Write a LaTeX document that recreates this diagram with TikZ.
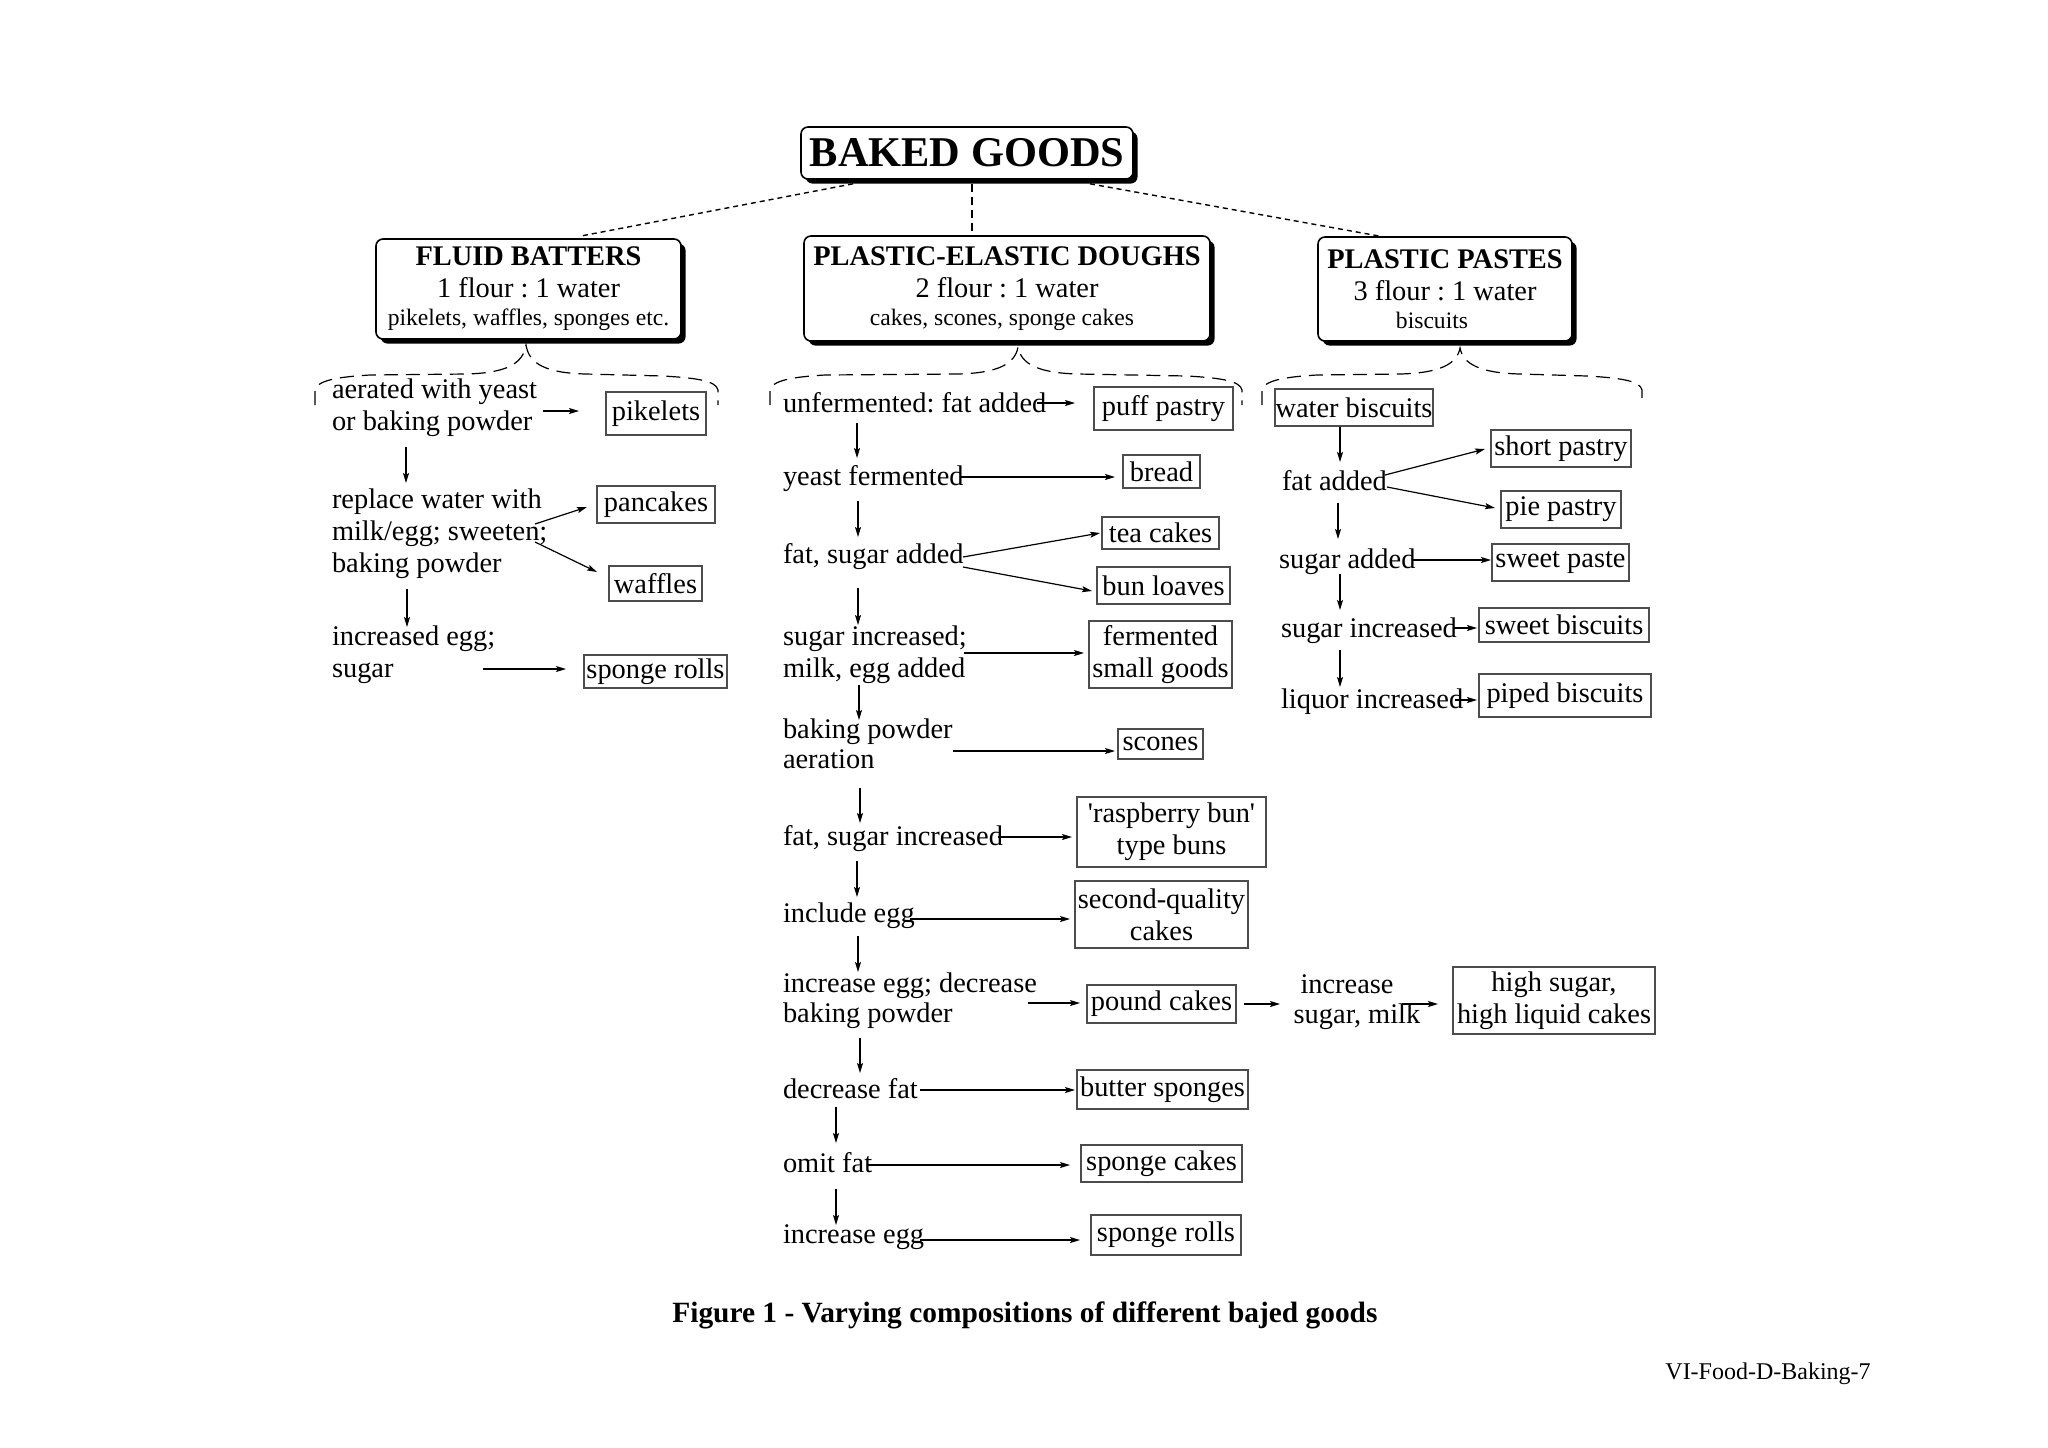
\documentclass[tikz,border=0pt]{standalone}
\usepackage{fontspec}
\setmainfont{Liberation Serif}
\usetikzlibrary{arrows.meta,shadows}
\newcommand{\dbrace}[4]{%
  \draw[brc] (#1,405) -- (#1,390) .. controls ({#1+2},381) and ({#1+20},377) .. ({#1+55},375)
    -- ({#3-60},374) .. controls ({#3-20},373) and ({#3-3},364) .. (#3,#4)
    .. controls ({#3+3},364) and ({#3+20},373) .. ({#3+60},374)
    -- ({#2-55},376) .. controls ({#2-20},378) and ({#2-2},381) .. (#2,390) -- (#2,405);}
\begin{document}
\frenchspacing
\begin{tikzpicture}[x=0.5pt,y=-0.5pt,
  lbl/.style={inner sep=0pt, outer sep=0pt, anchor=base west, align=left, font=\fontsize{14.2}{16}\selectfont\frenchspacing},
  bx/.style={draw=black!70, line width=0.6pt, inner sep=0pt, outer sep=0pt, align=center, font=\fontsize{14.2}{16}\selectfont\frenchspacing},
  hdr/.style={draw, line width=0.8pt, rounded corners=3.5pt, fill=white, inner sep=0pt, align=center,
    font=\fontsize{14.2}{16}\selectfont\frenchspacing, drop shadow={shadow xshift=2.3pt, shadow yshift=-2.3pt, opacity=1, fill=black}},
  arr/.style={-{Stealth[length=5pt,width=3pt,inset=1pt]}, line width=0.6pt},
  lnk/.style={dash pattern=on 2.5pt off 2pt, line width=0.7pt},
  lnkm/.style={dash pattern=on 4pt off 2.5pt, line width=0.7pt},
  brc/.style={dash pattern=on 7pt off 4pt, line width=0.6pt}]
\useasboundingbox (0,0) rectangle (2048,1447);
\fill[white] (0,0) rectangle (2048,1447);

% ---------- headers ----------
\node[hdr, minimum width=166pt, minimum height=26pt] (bg) at (967,153)
  {\fontsize{21.2}{24}\selectfont\bfseries BAKED GOODS};
\node[hdr, minimum width=152.5pt, minimum height=50pt] (fb) at (528.5,289)
  {{\bfseries FLUID BATTERS}\\1 flour : 1 water\\[-2pt]{\fontsize{11.8}{14}\selectfont pikelets, waffles, sponges etc.}};
\node[hdr, minimum width=203pt, minimum height=52.5pt] (ped) at (1007,288.5)
  {{\bfseries PLASTIC-ELASTIC DOUGHS}\\2 flour : 1 water\\[-2pt]{\fontsize{11.8}{14}\selectfont cakes, scones, sponge cakes\hspace*{5pt}}};
\node[hdr, minimum width=127pt, minimum height=52pt] (pp) at (1445,289)
  {{\bfseries PLASTIC PASTES}\\3 flour : 1 water\\[-2pt]{\fontsize{11.8}{14}\selectfont biscuits\hspace*{13pt}}};

\draw[lnk] ([shift={(-114,4)}]bg.south) -- ([shift={(51.5,-2)}]fb.north);
\draw[lnkm] ([shift={(5,4)}]bg.south) -- ([shift={(-35,-1)}]ped.north);
\draw[lnk] ([shift={(123,4)}]bg.south) -- ([shift={(-65,0)}]pp.north);

% ---------- braces ----------
\dbrace{315}{718}{526}{345}
\dbrace{770}{1242}{1018}{347}
\dbrace{1262}{1642}{1460}{348}

% ---------- left column ----------
\node[lbl] (la1) at (332,430) {aerated with yeast\\or baking powder};
\node[lbl] (la2) at (332,572) {replace water with\\milk/egg; sweeten;\\baking powder};
\node[lbl] (la3) at (332,677) {increased egg;\\sugar};
\node[bx, minimum width=50pt, minimum height=21.5pt] (pik) at (656,413.5) {pikelets};
\node[bx, minimum width=59pt, minimum height=18.5pt] (pan) at (656,504.5) {pancakes};
\node[bx, minimum width=46.5pt, minimum height=17.5pt] (waf) at (655.5,583.5) {waffles};
\node[bx, minimum width=71.5pt, minimum height=16.5pt] (sr1) at (655.5,671.5) {sponge rolls};

\draw[arr] ([shift={(74,17)}]la1.base west) -- ([shift={(74,-89)}]la2.base west);
\draw[arr] ([shift={(75,17)}]la2.base west) -- ([shift={(75,-50)}]la3.base west);
\draw[arr] ([shift={(211,-19)}]la1.base west) -- ([shift={(-27,-2.5)}]pik.west);
\draw[arr] ([shift={(203,-48)}]la2.base west) -- ([shift={(-10,2.5)}]pan.west);
\draw[arr] ([shift={(203,-30)}]la2.base west) -- ([shift={(-12,-11.5)}]waf.west);
\draw[arr] ([shift={(151,-8)}]la3.base west) -- ([shift={(-18,-2.5)}]sr1.west);

% ---------- middle column ----------
\node[lbl] (m1) at (783,412) {unfermented: fat added};
\node[lbl] (m2) at (783,485) {yeast fermented};
\node[lbl] (m3) at (783,563) {fat, sugar added};
\node[lbl] (m4) at (783,677) {sugar increased;\\milk, egg added};
\node[lbl] (m5) at (783,768) {baking powder\\[-1pt]aeration};
\node[lbl] (m6) at (783,845) {fat, sugar increased};
\node[lbl] (m7) at (783,922) {include egg};
\node[lbl] (m8) at (783,1022) {increase egg; decrease\\[-1pt]baking powder};
\node[lbl] (m9) at (783,1098) {decrease fat};
\node[lbl] (m10) at (783,1172) {omit fat};
\node[lbl] (m11) at (783,1243) {increase egg};
\node[lbl, anchor=base, align=center] (inc) at (1347,1023) {increase\\[-1pt]\hspace*{10pt}sugar, milk};

\node[bx, minimum width=69.5pt, minimum height=21.5pt] (puff) at (1163.5,408.5) {puff pastry};
\node[bx, minimum width=38.5pt, minimum height=16.5pt] (bread) at (1161.5,471.5) {bread};
\node[bx, minimum width=58.5pt, minimum height=16pt] (tea) at (1160.5,533) {tea cakes};
\node[bx, minimum width=66.5pt, minimum height=18.5pt] (bun) at (1163.5,585.5) {bun loaves};
\node[bx, minimum width=71.5pt, minimum height=33.5pt] (fsg) at (1160.5,654.5) {fermented\\small goods};
\node[bx, minimum width=42.5pt, minimum height=15pt] (scn) at (1160.5,744) {scones};
\node[bx, minimum width=94.5pt, minimum height=35pt] (rasp) at (1171.5,832) {\textquotesingle raspberry bun\textquotesingle\\type buns};
\node[bx, minimum width=86.5pt, minimum height=33.5pt] (sq) at (1161.5,914.5) {second-quality\\cakes};
\node[bx, minimum width=74.5pt, minimum height=19pt] (pound) at (1161.5,1004) {pound cakes};
\node[bx, minimum width=101pt, minimum height=33.5pt] (high) at (1554,1000.5) {high sugar,\\high liquid cakes};
\node[bx, minimum width=85.5pt, minimum height=19.5pt] (bs) at (1162.5,1089.5) {butter sponges};
\node[bx, minimum width=80.5pt, minimum height=18.5pt] (sc) at (1161.5,1163.5) {sponge cakes};
\node[bx, minimum width=75pt, minimum height=20pt] (sr2) at (1166,1235) {sponge rolls};

\draw[arr] ([shift={(74,11)}]m1.base west) -- ([shift={(74,-27)}]m2.base west);
\draw[arr] ([shift={(75,16)}]m2.base west) -- ([shift={(75,-26)}]m3.base west);
\draw[arr] ([shift={(75,25)}]m3.base west) -- ([shift={(75,-52)}]m4.base west);
\draw[arr] ([shift={(76,8)}]m4.base west) -- ([shift={(76,-48)}]m5.base west);
\draw[arr] ([shift={(77,20)}]m5.base west) -- ([shift={(77,-22)}]m6.base west);
\draw[arr] ([shift={(74,16)}]m6.base west) -- ([shift={(74,-25)}]m7.base west);
\draw[arr] ([shift={(75,14)}]m7.base west) -- ([shift={(75,-50)}]m8.base west);
\draw[arr] ([shift={(77,16)}]m8.base west) -- ([shift={(77,-25)}]m9.base west);
\draw[arr] ([shift={(53,9)}]m9.base west) -- ([shift={(53,-29)}]m10.base west);
\draw[arr] ([shift={(53,17)}]m10.base west) -- ([shift={(53,-18)}]m11.base west);

\draw[arr] ([shift={(254,-9)}]m1.base west) -- ([shift={(-19,-5.5)}]puff.west);
\draw[arr] ([shift={(177,-8)}]m2.base west) -- ([shift={(-8,5.5)}]bread.west);
\draw[arr] ([shift={(180,-6)}]m3.base west) -- ([shift={(-2,0)}]tea.west);
\draw[arr] ([shift={(180,4)}]m3.base west) -- ([shift={(-5,5.5)}]bun.west);
\draw[arr] ([shift={(181,-24)}]m4.base west) -- ([shift={(-5,-1.5)}]fsg.west);
\draw[arr] ([shift={(170,-17)}]m5.base west) -- ([shift={(-3,7)}]scn.west);
\draw[arr] ([shift={(215,-8)}]m6.base west) -- ([shift={(-5,5)}]rasp.west);
\draw[arr] ([shift={(127,-3)}]m7.base west) -- ([shift={(-5,4.5)}]sq.west);
\draw[arr] ([shift={(245,-19)}]m8.base west) -- ([shift={(-7,-1)}]pound.west);
\draw[arr] ([shift={(8,0)}]pound.east) -- ([shift={(-67,-19)}]inc.base);
\draw[arr] ([shift={(55,-19)}]inc.base) -- ([shift={(-15,3.5)}]high.west);
\draw[arr] ([shift={(137,-8)}]m9.base west) -- ([shift={(-2,0.5)}]bs.west);
\draw[arr] ([shift={(85,-7)}]m10.base west) -- ([shift={(-11,1.5)}]sc.west);
\draw[arr] ([shift={(137,-3)}]m11.base west) -- ([shift={(-11,5)}]sr2.west);

% ---------- right column ----------
\node[bx, minimum width=79pt, minimum height=18.5pt] (wb) at (1354,407.5) {water biscuits};
\node[lbl] (r1) at (1282,490) {fat added};
\node[lbl] (r2) at (1279,568) {sugar added};
\node[lbl] (r3) at (1281,637) {sugar increased};
\node[lbl] (r4) at (1281,708) {liquor increased};
\node[bx, minimum width=70pt, minimum height=18.5pt] (shp) at (1561,448.5) {short pastry};
\node[bx, minimum width=60pt, minimum height=18.5pt] (pie) at (1561,509.5) {pie pastry};
\node[bx, minimum width=68.5pt, minimum height=18.5pt] (swp) at (1560.5,562.5) {sweet paste};
\node[bx, minimum width=85pt, minimum height=17pt] (swb) at (1564,625) {sweet biscuits};
\node[bx, minimum width=86pt, minimum height=21.5pt] (pip) at (1565,695.5) {piped biscuits};

\draw[arr] ([shift={(-14,1)}]wb.south) -- ([shift={(58,-28)}]r1.base west);
\draw[arr] ([shift={(56,13)}]r1.base west) -- ([shift={(59,-29)}]r2.base west);
\draw[arr] ([shift={(61,6)}]r2.base west) -- ([shift={(59,-27)}]r3.base west);
\draw[arr] ([shift={(59,13)}]r3.base west) -- ([shift={(59,-21)}]r4.base west);

\draw[arr] ([shift={(103,-15)}]r1.base west) -- ([shift={(-6,0.5)}]shp.west);
\draw[arr] ([shift={(105,-3)}]r1.base west) -- ([shift={(-6,-1.5)}]pie.west);
\draw[arr] ([shift={(134,-8)}]r2.base west) -- ([shift={(-1,-2.5)}]swp.west);
\draw[arr] ([shift={(172,-9)}]r3.base west) -- ([shift={(-2,3)}]swb.west);
\draw[arr] ([shift={(174,-8)}]r4.base west) -- ([shift={(-2,4.5)}]pip.west);

% ---------- caption ----------
\node[anchor=base west, inner sep=0pt, font=\fontsize{14.7}{16}\selectfont\bfseries] (cap) at (672,1322)
  {Figure 1 - Varying compositions of different bajed goods};
\node[anchor=base west, inner sep=0pt, font=\fontsize{12}{14}\selectfont] (pg) at (1665,1379) {VI-Food-D-Baking-7};
\end{tikzpicture}
\end{document}
